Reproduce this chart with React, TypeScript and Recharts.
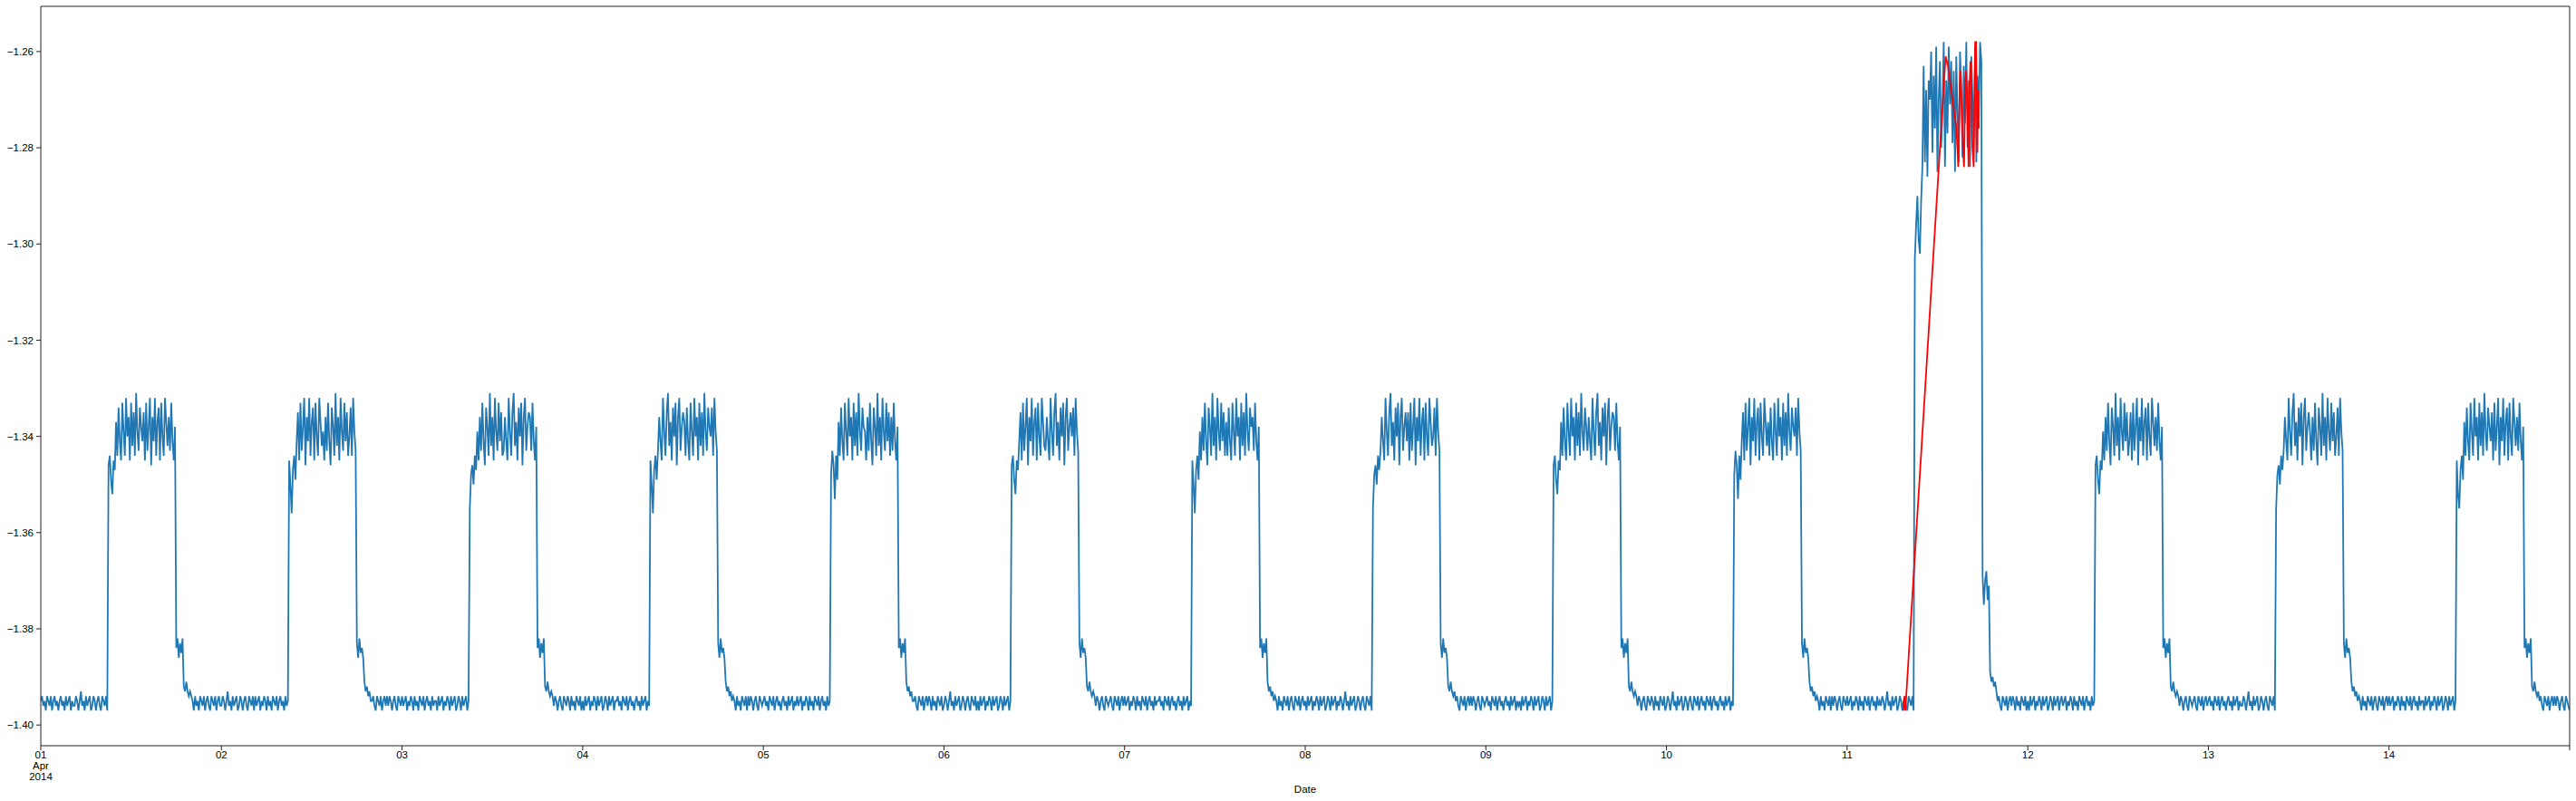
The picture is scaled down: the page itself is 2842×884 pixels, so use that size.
import React from 'react';
import { LineChart, Line, XAxis, YAxis, ReferenceLine } from 'recharts';

// Sensor readings, one value every 10 minutes, 1–14 April 2014
const apr01 = [
  -1.395,-1.394,-1.396,-1.395,-1.397,-1.394,-1.395,-1.396,-1.394,-1.397,-1.395,-1.394,-1.396,-1.395,-1.397,-1.395,-1.394,-1.396,-1.395,-1.397,-1.394,-1.396,-1.395,-1.394,-1.397,-1.395,-1.396,
  -1.396,-1.394,-1.395,-1.397,-1.395,-1.393,-1.396,-1.395,-1.397,-1.394,-1.396,-1.395,-1.394,-1.397,-1.396,-1.394,-1.395,-1.397,-1.395,-1.394,-1.396,-1.397,-1.394,-1.395,-1.396,-1.394,-1.397,
  -1.346,-1.344,-1.349,-1.352,-1.345,-1.347,
  -1.337,-1.344,-1.334,-1.341,-1.345,-1.333,-1.339,-1.344,-1.332,-1.340,-1.336,-1.345,-1.333,-1.342,-1.335,-1.344,-1.331,-1.339,-1.343,-1.334,-1.338,
  -1.341,-1.335,-1.345,-1.333,-1.343,-1.338,-1.332,-1.346,-1.336,-1.341,-1.332,-1.344,-1.337,-1.334,-1.345,-1.333,-1.340,-1.344,-1.332,-1.337,-1.342,
  -1.336,-1.343,-1.333,-1.341,-1.345,-1.338,
  -1.384,-1.382,-1.386,-1.383,-1.385,-1.382,
  -1.392,-1.393,-1.391,-1.393,-1.394,-1.393,
  -1.394,-1.395,-1.397,-1.394,-1.396,-1.395,-1.397,-1.394,-1.395,-1.396,-1.394,-1.397,
  -1.395,-1.394,-1.396,-1.397,-1.394,-1.395,-1.396,-1.394,-1.397,-1.395,-1.394,-1.396];
const apr02 = [
  -1.396,-1.394,-1.395,-1.397,-1.395,-1.393,-1.396,-1.395,-1.397,-1.394,-1.396,-1.395,-1.394,-1.397,-1.396,-1.394,-1.395,-1.397,-1.395,-1.394,-1.396,-1.397,-1.394,-1.395,-1.396,-1.394,-1.397,
  -1.394,-1.396,-1.395,-1.394,-1.397,-1.395,-1.396,-1.394,-1.395,-1.397,-1.394,-1.396,-1.395,-1.397,-1.394,-1.395,-1.396,-1.394,-1.397,-1.395,-1.394,-1.396,-1.395,-1.397,-1.394,-1.396,-1.395,
  -1.345,-1.350,-1.356,-1.347,-1.344,-1.349,
  -1.341,-1.335,-1.345,-1.333,-1.343,-1.338,-1.332,-1.346,-1.336,-1.341,-1.332,-1.344,-1.337,-1.334,-1.345,-1.333,-1.340,-1.344,-1.332,-1.337,-1.342,
  -1.339,-1.345,-1.336,-1.343,-1.333,-1.341,-1.346,-1.334,-1.338,-1.344,-1.331,-1.342,-1.336,-1.345,-1.332,-1.339,-1.343,-1.333,-1.341,-1.335,-1.344,
  -1.340,-1.334,-1.344,-1.332,-1.339,-1.343,
  -1.383,-1.386,-1.382,-1.385,-1.384,-1.386,
  -1.391,-1.393,-1.392,-1.394,-1.393,-1.395,
  -1.395,-1.394,-1.396,-1.397,-1.394,-1.395,-1.396,-1.394,-1.397,-1.395,-1.394,-1.396,
  -1.394,-1.396,-1.394,-1.395,-1.397,-1.395,-1.394,-1.396,-1.397,-1.394,-1.395,-1.396];
const apr03 = [
  -1.394,-1.396,-1.395,-1.394,-1.397,-1.395,-1.396,-1.394,-1.395,-1.397,-1.394,-1.396,-1.395,-1.397,-1.394,-1.395,-1.396,-1.394,-1.397,-1.395,-1.394,-1.396,-1.395,-1.397,-1.394,-1.396,-1.395,
  -1.395,-1.397,-1.394,-1.396,-1.395,-1.394,-1.397,-1.395,-1.396,-1.394,-1.395,-1.397,-1.394,-1.396,-1.395,-1.394,-1.397,-1.396,-1.394,-1.395,-1.397,-1.394,-1.396,-1.395,-1.394,-1.397,-1.395,
  -1.355,-1.348,-1.346,-1.350,-1.344,-1.347,
  -1.339,-1.345,-1.336,-1.343,-1.333,-1.341,-1.346,-1.334,-1.338,-1.344,-1.331,-1.342,-1.336,-1.345,-1.332,-1.339,-1.343,-1.333,-1.341,-1.335,-1.344,
  -1.343,-1.336,-1.341,-1.345,-1.332,-1.339,-1.344,-1.335,-1.331,-1.342,-1.337,-1.345,-1.334,-1.340,-1.333,-1.346,-1.336,-1.332,-1.343,-1.338,-1.335,
  -1.336,-1.343,-1.333,-1.341,-1.345,-1.338,
  -1.384,-1.382,-1.386,-1.383,-1.385,-1.382,
  -1.392,-1.393,-1.391,-1.393,-1.394,-1.393,
  -1.394,-1.396,-1.394,-1.395,-1.397,-1.395,-1.394,-1.396,-1.397,-1.394,-1.395,-1.396,
  -1.394,-1.395,-1.397,-1.394,-1.396,-1.395,-1.397,-1.394,-1.395,-1.396,-1.394,-1.397];
const apr04 = [
  -1.395,-1.397,-1.394,-1.396,-1.395,-1.394,-1.397,-1.395,-1.396,-1.394,-1.395,-1.397,-1.394,-1.396,-1.395,-1.394,-1.397,-1.396,-1.394,-1.395,-1.397,-1.394,-1.396,-1.395,-1.394,-1.397,-1.395,
  -1.395,-1.394,-1.396,-1.395,-1.397,-1.394,-1.395,-1.396,-1.394,-1.397,-1.395,-1.394,-1.396,-1.395,-1.397,-1.395,-1.394,-1.396,-1.395,-1.397,-1.394,-1.396,-1.395,-1.394,-1.397,-1.395,-1.396,
  -1.345,-1.350,-1.356,-1.347,-1.344,-1.349,
  -1.343,-1.336,-1.341,-1.345,-1.332,-1.339,-1.344,-1.335,-1.331,-1.342,-1.337,-1.345,-1.334,-1.340,-1.333,-1.346,-1.336,-1.332,-1.343,-1.338,-1.335,
  -1.337,-1.344,-1.334,-1.341,-1.345,-1.333,-1.339,-1.344,-1.332,-1.340,-1.336,-1.345,-1.333,-1.342,-1.335,-1.344,-1.331,-1.339,-1.343,-1.334,-1.338,
  -1.340,-1.334,-1.344,-1.332,-1.339,-1.343,
  -1.383,-1.386,-1.382,-1.385,-1.384,-1.386,
  -1.391,-1.393,-1.392,-1.394,-1.393,-1.395,
  -1.394,-1.395,-1.397,-1.394,-1.396,-1.395,-1.397,-1.394,-1.395,-1.396,-1.394,-1.397,
  -1.394,-1.396,-1.394,-1.395,-1.397,-1.395,-1.394,-1.396,-1.397,-1.394,-1.395,-1.396];
const apr05 = [
  -1.395,-1.394,-1.396,-1.395,-1.397,-1.394,-1.395,-1.396,-1.394,-1.397,-1.395,-1.394,-1.396,-1.395,-1.397,-1.395,-1.394,-1.396,-1.395,-1.397,-1.394,-1.396,-1.395,-1.394,-1.397,-1.395,-1.396,
  -1.394,-1.396,-1.395,-1.394,-1.397,-1.395,-1.396,-1.394,-1.395,-1.397,-1.394,-1.396,-1.395,-1.397,-1.394,-1.395,-1.396,-1.394,-1.397,-1.395,-1.394,-1.396,-1.395,-1.397,-1.394,-1.396,-1.395,
  -1.348,-1.343,-1.346,-1.353,-1.344,-1.349,
  -1.337,-1.344,-1.334,-1.341,-1.345,-1.333,-1.339,-1.344,-1.332,-1.340,-1.336,-1.345,-1.333,-1.342,-1.335,-1.344,-1.331,-1.339,-1.343,-1.334,-1.338,
  -1.339,-1.345,-1.336,-1.343,-1.333,-1.341,-1.346,-1.334,-1.338,-1.344,-1.331,-1.342,-1.336,-1.345,-1.332,-1.339,-1.343,-1.333,-1.341,-1.335,-1.344,
  -1.336,-1.343,-1.333,-1.341,-1.345,-1.338,
  -1.384,-1.382,-1.386,-1.383,-1.385,-1.382,
  -1.391,-1.393,-1.392,-1.394,-1.393,-1.395,
  -1.395,-1.394,-1.396,-1.397,-1.394,-1.395,-1.396,-1.394,-1.397,-1.395,-1.394,-1.396,
  -1.394,-1.395,-1.397,-1.394,-1.396,-1.395,-1.397,-1.394,-1.395,-1.396,-1.394,-1.397];
const apr06 = [
  -1.396,-1.394,-1.395,-1.397,-1.395,-1.393,-1.396,-1.395,-1.397,-1.394,-1.396,-1.395,-1.394,-1.397,-1.396,-1.394,-1.395,-1.397,-1.395,-1.394,-1.396,-1.397,-1.394,-1.395,-1.396,-1.394,-1.397,
  -1.395,-1.397,-1.394,-1.396,-1.395,-1.394,-1.397,-1.395,-1.396,-1.394,-1.395,-1.397,-1.394,-1.396,-1.395,-1.394,-1.397,-1.396,-1.394,-1.395,-1.397,-1.394,-1.396,-1.395,-1.394,-1.397,-1.395,
  -1.346,-1.344,-1.349,-1.352,-1.345,-1.347,
  -1.341,-1.335,-1.345,-1.333,-1.343,-1.338,-1.332,-1.346,-1.336,-1.341,-1.332,-1.344,-1.337,-1.334,-1.345,-1.333,-1.340,-1.344,-1.332,-1.337,-1.342,
  -1.343,-1.336,-1.341,-1.345,-1.332,-1.339,-1.344,-1.335,-1.331,-1.342,-1.337,-1.345,-1.334,-1.340,-1.333,-1.346,-1.336,-1.332,-1.343,-1.338,-1.335,
  -1.340,-1.334,-1.344,-1.332,-1.339,-1.343,
  -1.383,-1.386,-1.382,-1.385,-1.384,-1.386,
  -1.392,-1.393,-1.391,-1.393,-1.394,-1.393,
  -1.394,-1.396,-1.394,-1.395,-1.397,-1.395,-1.394,-1.396,-1.397,-1.394,-1.395,-1.396,
  -1.395,-1.394,-1.396,-1.397,-1.394,-1.395,-1.396,-1.394,-1.397,-1.395,-1.394,-1.396];
const apr07 = [
  -1.394,-1.396,-1.395,-1.394,-1.397,-1.395,-1.396,-1.394,-1.395,-1.397,-1.394,-1.396,-1.395,-1.397,-1.394,-1.395,-1.396,-1.394,-1.397,-1.395,-1.394,-1.396,-1.395,-1.397,-1.394,-1.396,-1.395,
  -1.395,-1.394,-1.396,-1.395,-1.397,-1.394,-1.395,-1.396,-1.394,-1.397,-1.395,-1.394,-1.396,-1.395,-1.397,-1.395,-1.394,-1.396,-1.395,-1.397,-1.394,-1.396,-1.395,-1.394,-1.397,-1.395,-1.396,
  -1.345,-1.350,-1.356,-1.347,-1.344,-1.349,
  -1.339,-1.345,-1.336,-1.343,-1.333,-1.341,-1.346,-1.334,-1.338,-1.344,-1.331,-1.342,-1.336,-1.345,-1.332,-1.339,-1.343,-1.333,-1.341,-1.335,-1.344,
  -1.337,-1.344,-1.334,-1.341,-1.345,-1.333,-1.339,-1.344,-1.332,-1.340,-1.336,-1.345,-1.333,-1.342,-1.335,-1.344,-1.331,-1.339,-1.343,-1.334,-1.338,
  -1.336,-1.343,-1.333,-1.341,-1.345,-1.338,
  -1.384,-1.382,-1.386,-1.383,-1.385,-1.382,
  -1.391,-1.393,-1.392,-1.394,-1.393,-1.395,
  -1.394,-1.395,-1.397,-1.394,-1.396,-1.395,-1.397,-1.394,-1.395,-1.396,-1.394,-1.397,
  -1.395,-1.394,-1.396,-1.397,-1.394,-1.395,-1.396,-1.394,-1.397,-1.395,-1.394,-1.396];
const apr08 = [
  -1.395,-1.397,-1.394,-1.396,-1.395,-1.394,-1.397,-1.395,-1.396,-1.394,-1.395,-1.397,-1.394,-1.396,-1.395,-1.394,-1.397,-1.396,-1.394,-1.395,-1.397,-1.394,-1.396,-1.395,-1.394,-1.397,-1.395,
  -1.396,-1.394,-1.395,-1.397,-1.395,-1.393,-1.396,-1.395,-1.397,-1.394,-1.396,-1.395,-1.394,-1.397,-1.396,-1.394,-1.395,-1.397,-1.395,-1.394,-1.396,-1.397,-1.394,-1.395,-1.396,-1.394,-1.397,
  -1.355,-1.348,-1.346,-1.350,-1.344,-1.347,
  -1.343,-1.336,-1.341,-1.345,-1.332,-1.339,-1.344,-1.335,-1.331,-1.342,-1.337,-1.345,-1.334,-1.340,-1.333,-1.346,-1.336,-1.332,-1.343,-1.338,-1.335,
  -1.341,-1.335,-1.345,-1.333,-1.343,-1.338,-1.332,-1.346,-1.336,-1.341,-1.332,-1.344,-1.337,-1.334,-1.345,-1.333,-1.340,-1.344,-1.332,-1.337,-1.342,
  -1.340,-1.334,-1.344,-1.332,-1.339,-1.343,
  -1.383,-1.386,-1.382,-1.385,-1.384,-1.386,
  -1.392,-1.393,-1.391,-1.393,-1.394,-1.393,
  -1.395,-1.394,-1.396,-1.397,-1.394,-1.395,-1.396,-1.394,-1.397,-1.395,-1.394,-1.396,
  -1.394,-1.396,-1.394,-1.395,-1.397,-1.395,-1.394,-1.396,-1.397,-1.394,-1.395,-1.396];
const apr09 = [
  -1.395,-1.394,-1.396,-1.395,-1.397,-1.394,-1.395,-1.396,-1.394,-1.397,-1.395,-1.394,-1.396,-1.395,-1.397,-1.395,-1.394,-1.396,-1.395,-1.397,-1.394,-1.396,-1.395,-1.394,-1.397,-1.395,-1.396,
  -1.395,-1.397,-1.394,-1.396,-1.395,-1.394,-1.397,-1.395,-1.396,-1.394,-1.395,-1.397,-1.394,-1.396,-1.395,-1.394,-1.397,-1.396,-1.394,-1.395,-1.397,-1.394,-1.396,-1.395,-1.394,-1.397,-1.395,
  -1.346,-1.344,-1.349,-1.352,-1.345,-1.347,
  -1.337,-1.344,-1.334,-1.341,-1.345,-1.333,-1.339,-1.344,-1.332,-1.340,-1.336,-1.345,-1.333,-1.342,-1.335,-1.344,-1.331,-1.339,-1.343,-1.334,-1.338,
  -1.343,-1.336,-1.341,-1.345,-1.332,-1.339,-1.344,-1.335,-1.331,-1.342,-1.337,-1.345,-1.334,-1.340,-1.333,-1.346,-1.336,-1.332,-1.343,-1.338,-1.335,
  -1.336,-1.343,-1.333,-1.341,-1.345,-1.338,
  -1.384,-1.382,-1.386,-1.383,-1.385,-1.382,
  -1.392,-1.393,-1.391,-1.393,-1.394,-1.393,
  -1.394,-1.396,-1.394,-1.395,-1.397,-1.395,-1.394,-1.396,-1.397,-1.394,-1.395,-1.396,
  -1.394,-1.395,-1.397,-1.394,-1.396,-1.395,-1.397,-1.394,-1.395,-1.396,-1.394,-1.397];
const apr10 = [
  -1.396,-1.394,-1.395,-1.397,-1.395,-1.393,-1.396,-1.395,-1.397,-1.394,-1.396,-1.395,-1.394,-1.397,-1.396,-1.394,-1.395,-1.397,-1.395,-1.394,-1.396,-1.397,-1.394,-1.395,-1.396,-1.394,-1.397,
  -1.395,-1.394,-1.396,-1.395,-1.397,-1.394,-1.395,-1.396,-1.394,-1.397,-1.395,-1.394,-1.396,-1.395,-1.397,-1.395,-1.394,-1.396,-1.395,-1.397,-1.394,-1.396,-1.395,-1.394,-1.397,-1.395,-1.396,
  -1.348,-1.343,-1.346,-1.353,-1.344,-1.349,
  -1.341,-1.335,-1.345,-1.333,-1.343,-1.338,-1.332,-1.346,-1.336,-1.341,-1.332,-1.344,-1.337,-1.334,-1.345,-1.333,-1.340,-1.344,-1.332,-1.337,-1.342,
  -1.337,-1.344,-1.334,-1.341,-1.345,-1.333,-1.339,-1.344,-1.332,-1.340,-1.336,-1.345,-1.333,-1.342,-1.335,-1.344,-1.331,-1.339,-1.343,-1.334,-1.338,
  -1.340,-1.334,-1.344,-1.332,-1.339,-1.343,
  -1.383,-1.386,-1.382,-1.385,-1.384,-1.386,
  -1.391,-1.393,-1.392,-1.394,-1.393,-1.395,
  -1.394,-1.395,-1.397,-1.394,-1.396,-1.395,-1.397,-1.394,-1.395,-1.396,-1.394,-1.397,
  -1.394,-1.396,-1.394,-1.395,-1.397,-1.395,-1.394,-1.396,-1.397,-1.394,-1.395,-1.396];
const apr11 = [
  -1.394,-1.396,-1.395,-1.394,-1.397,-1.395,-1.396,-1.394,-1.395,-1.397,-1.394,-1.396,-1.395,-1.397,-1.394,-1.395,-1.396,-1.394,-1.397,-1.395,-1.394,-1.396,-1.395,-1.397,-1.394,-1.396,-1.395,
  -1.396,-1.394,-1.395,-1.397,-1.395,-1.393,-1.396,-1.395,-1.397,-1.394,-1.396,-1.395,-1.394,-1.397,-1.396,-1.394,-1.395,-1.397,-1.395,-1.394,-1.396,-1.397,-1.394,-1.395,-1.396,-1.394,-1.397,
  -1.303,-1.296,-1.290,-1.299,-1.302,-1.291,
  -1.284,-1.263,-1.283,-1.268,-1.286,-1.266,-1.270,-1.260,-1.281,-1.265,-1.276,-1.259,-1.285,-1.270,-1.262,-1.280,-1.272,-1.258,-1.284,-1.266,-1.277,-1.259,-1.271,-1.262,
  -1.279,-1.264,-1.285,-1.261,-1.273,-1.283,-1.260,-1.268,-1.282,-1.263,-1.275,-1.258,-1.280,-1.266,-1.284,-1.261,-1.270,-1.278,-1.259,-1.283,-1.265,-1.274,-1.258,-1.262,
  -1.369,-1.375,-1.370,-1.368,-1.374,-1.371,
  -1.389,-1.391,-1.390,-1.392,-1.391,-1.393,
  -1.395,-1.394,-1.396,-1.397,-1.394,-1.395,-1.396,-1.394,-1.397,-1.395,-1.394,-1.396,
  -1.394,-1.395,-1.397,-1.394,-1.396,-1.395,-1.397,-1.394,-1.395,-1.396,-1.394,-1.397];
const apr12 = [
  -1.395,-1.397,-1.394,-1.396,-1.395,-1.394,-1.397,-1.395,-1.396,-1.394,-1.395,-1.397,-1.394,-1.396,-1.395,-1.394,-1.397,-1.396,-1.394,-1.395,-1.397,-1.394,-1.396,-1.395,-1.394,-1.397,-1.395,
  -1.394,-1.396,-1.395,-1.394,-1.397,-1.395,-1.396,-1.394,-1.395,-1.397,-1.394,-1.396,-1.395,-1.397,-1.394,-1.395,-1.396,-1.394,-1.397,-1.395,-1.394,-1.396,-1.395,-1.397,-1.394,-1.396,-1.395,
  -1.346,-1.344,-1.349,-1.352,-1.345,-1.347,
  -1.339,-1.345,-1.336,-1.343,-1.333,-1.341,-1.346,-1.334,-1.338,-1.344,-1.331,-1.342,-1.336,-1.345,-1.332,-1.339,-1.343,-1.333,-1.341,-1.335,-1.344,
  -1.341,-1.335,-1.345,-1.333,-1.343,-1.338,-1.332,-1.346,-1.336,-1.341,-1.332,-1.344,-1.337,-1.334,-1.345,-1.333,-1.340,-1.344,-1.332,-1.337,-1.342,
  -1.336,-1.343,-1.333,-1.341,-1.345,-1.338,
  -1.384,-1.382,-1.386,-1.383,-1.385,-1.382,
  -1.392,-1.393,-1.391,-1.393,-1.394,-1.393,
  -1.394,-1.396,-1.394,-1.395,-1.397,-1.395,-1.394,-1.396,-1.397,-1.394,-1.395,-1.396,
  -1.395,-1.394,-1.396,-1.397,-1.394,-1.395,-1.396,-1.394,-1.397,-1.395,-1.394,-1.396];
const apr13 = [
  -1.395,-1.394,-1.396,-1.395,-1.397,-1.394,-1.395,-1.396,-1.394,-1.397,-1.395,-1.394,-1.396,-1.395,-1.397,-1.395,-1.394,-1.396,-1.395,-1.397,-1.394,-1.396,-1.395,-1.394,-1.397,-1.395,-1.396,
  -1.396,-1.394,-1.395,-1.397,-1.395,-1.393,-1.396,-1.395,-1.397,-1.394,-1.396,-1.395,-1.394,-1.397,-1.396,-1.394,-1.395,-1.397,-1.395,-1.394,-1.396,-1.397,-1.394,-1.395,-1.396,-1.394,-1.397,
  -1.355,-1.348,-1.346,-1.350,-1.344,-1.347,
  -1.343,-1.336,-1.341,-1.345,-1.332,-1.339,-1.344,-1.335,-1.331,-1.342,-1.337,-1.345,-1.334,-1.340,-1.333,-1.346,-1.336,-1.332,-1.343,-1.338,-1.335,
  -1.339,-1.345,-1.336,-1.343,-1.333,-1.341,-1.346,-1.334,-1.338,-1.344,-1.331,-1.342,-1.336,-1.345,-1.332,-1.339,-1.343,-1.333,-1.341,-1.335,-1.344,
  -1.340,-1.334,-1.344,-1.332,-1.339,-1.343,
  -1.383,-1.386,-1.382,-1.385,-1.384,-1.386,
  -1.391,-1.393,-1.392,-1.394,-1.393,-1.395,
  -1.394,-1.395,-1.397,-1.394,-1.396,-1.395,-1.397,-1.394,-1.395,-1.396,-1.394,-1.397,
  -1.395,-1.394,-1.396,-1.397,-1.394,-1.395,-1.396,-1.394,-1.397,-1.395,-1.394,-1.396];
const apr14 = [
  -1.394,-1.396,-1.395,-1.394,-1.397,-1.395,-1.396,-1.394,-1.395,-1.397,-1.394,-1.396,-1.395,-1.397,-1.394,-1.395,-1.396,-1.394,-1.397,-1.395,-1.394,-1.396,-1.395,-1.397,-1.394,-1.396,-1.395,
  -1.395,-1.397,-1.394,-1.396,-1.395,-1.394,-1.397,-1.395,-1.396,-1.394,-1.395,-1.397,-1.394,-1.396,-1.395,-1.394,-1.397,-1.396,-1.394,-1.395,-1.397,-1.394,-1.396,-1.395,-1.394,-1.397,-1.395,
  -1.345,-1.352,-1.355,-1.347,-1.344,-1.349,
  -1.337,-1.344,-1.334,-1.341,-1.345,-1.333,-1.339,-1.344,-1.332,-1.340,-1.336,-1.345,-1.333,-1.342,-1.335,-1.344,-1.331,-1.339,-1.343,-1.334,-1.338,
  -1.341,-1.335,-1.345,-1.333,-1.343,-1.338,-1.332,-1.346,-1.336,-1.341,-1.332,-1.344,-1.337,-1.334,-1.345,-1.333,-1.340,-1.344,-1.332,-1.337,-1.342,
  -1.336,-1.343,-1.333,-1.341,-1.345,-1.338,
  -1.384,-1.382,-1.386,-1.383,-1.385,-1.382,
  -1.392,-1.393,-1.391,-1.393,-1.394,-1.393,
  -1.395,-1.394,-1.396,-1.397,-1.394,-1.395,-1.396,-1.394,-1.397,-1.395,-1.394,-1.396,
  -1.394,-1.396,-1.394,-1.395,-1.397,-1.395,-1.394,-1.396,-1.397,-1.394,-1.395,-1.396,-1.397];

const days = [apr01, apr02, apr03, apr04, apr05, apr06, apr07, apr08, apr09, apr10, apr11, apr12, apr13, apr14];
const SAMPLES_PER_DAY = 144;

// Red overlay on 11 April (time of day, value)
const redTimes = ['07:28','07:38','07:44','13:05','13:24','14:32','14:46','14:56','15:05','15:15','15:25','15:32','15:42','15:49','15:59','16:08','16:15','16:23','16:30','16:39','16:49','17:01','17:08','17:18','17:25','17:30'];
const redValues = [-1.397,-1.394,-1.397,-1.261,-1.263,-1.276,-1.284,-1.270,-1.264,-1.273,-1.281,-1.284,-1.266,-1.264,-1.272,-1.284,-1.268,-1.262,-1.266,-1.280,-1.284,-1.258,-1.258,-1.281,-1.268,-1.276];
const RED_DAY_INDEX = 10;

const xTicks = [0, 1, 2, 3, 4, 5, 6, 7, 8, 9, 10, 11, 12, 13, 14];
const yTicks = [-1.40, -1.38, -1.36, -1.34, -1.32, -1.30, -1.28, -1.26];
const firstTickLines = ['01', 'Apr', '2014'];
const X_DOMAIN: [number, number] = [0, 14];
const Y_DOMAIN: [number, number] = [-1.4043, -1.2506];

const blueData = days.flatMap((vals, d) => vals.map((v, i) => ({ t: d + i / SAMPLES_PER_DAY, v })));
const redData = redTimes.map((s, k) => {
  const [h, m] = s.split(':').map(Number);
  return { t: RED_DAY_INDEX + (h + m / 60) / 24, v: redValues[k] };
});

const FONT = '"Liberation Sans", Arial, sans-serif';
const AXIS = '#222';

const XTick = (props: any) => {
  const { x, y, payload } = props;
  const idx = payload.value as number;
  let lines: string[] = [];
  if (idx === 0) lines = firstTickLines;
  else if (idx < 14) lines = [String(idx + 1).padStart(2, '0')];
  if (!lines.length) return null;
  return (
    <text x={x} y={y} textAnchor="middle" fill="#000" fontSize={11.5} fontFamily={FONT}>
      {lines.map((l, k) => (
        <tspan key={k} x={x} dy={k === 0 ? '0.71em' : 12}>{l}</tspan>
      ))}
    </text>
  );
};

export default function App() {
  return (
    <div style={{ position: 'absolute', left: 0, top: 0, fontFamily: FONT, background: '#fff' }}>
      <LineChart width={2842} height={884} margin={{ top: 7, right: 7, left: 0, bottom: 0 }}>
        <XAxis
          dataKey="t"
          type="number"
          domain={X_DOMAIN}
          ticks={xTicks}
          interval={0}
          height={61}
          tickSize={5}
          tickMargin={1}
          tick={<XTick />}
          tickLine={{ stroke: AXIS }}
          axisLine={{ stroke: AXIS }}
          allowDataOverflow
          label={{ value: 'Date', position: 'insideBottom', offset: 9, fill: '#000', fontSize: 11.5 }}
        />
        <YAxis
          type="number"
          domain={Y_DOMAIN}
          ticks={yTicks}
          interval={0}
          width={45}
          tickSize={5}
          tickMargin={3}
          allowDataOverflow
          tick={{ fill: '#000', fontSize: 11.5 }}
          tickLine={{ stroke: AXIS }}
          axisLine={{ stroke: AXIS }}
          tickFormatter={(v: number) => v.toFixed(2).replace('-', '\u2212')}
        />
        <Line data={blueData} dataKey="v" type="linear" stroke="#1f77b4" strokeWidth={1.8} dot={false} activeDot={false} isAnimationActive={false} />
        <Line data={redData} dataKey="v" type="linear" stroke="#ff0000" strokeWidth={1.8} dot={false} activeDot={false} isAnimationActive={false} />
        <ReferenceLine y={Y_DOMAIN[1]} stroke={AXIS} strokeWidth={1} ifOverflow="visible" />
        <ReferenceLine x={X_DOMAIN[1]} stroke={AXIS} strokeWidth={1} ifOverflow="visible" />
      </LineChart>
    </div>
  );
}
